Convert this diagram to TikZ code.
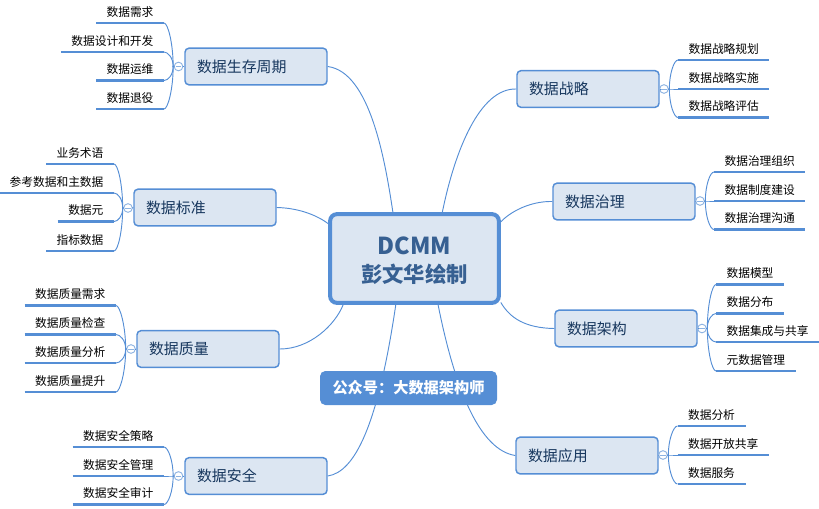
\documentclass[tikz,border=0pt]{standalone}
\usepackage{fontspec}
\usepackage{xcolor}
\setmainfont{Noto Sans CJK SC}
\definecolor{mapblue}{HTML}{558ED5}
\definecolor{mapfill}{HTML}{DCE6F2}
\definecolor{mapdark}{HTML}{376092}
\definecolor{maptext}{HTML}{17375E}
\definecolor{mapknob}{HTML}{8DB3E2}
\tikzset{
	topic/.style={draw=mapblue,fill=mapfill,line width=1.1pt,rounded corners=3pt,text width=88.5pt,inner xsep=9pt,minimum height=27.5pt,align=left,text=maptext,font=\fontsize{11.2}{13}\selectfont},
	leafl/.style={anchor=south east,inner xsep=7.9pt,inner ysep=0pt,outer sep=0pt,minimum height=17pt,font=\fontsize{8.8}{10}\selectfont},
	leafr/.style={leafl,anchor=south west},
	leafline/.style={draw=mapblue,line width=2pt},
	branch/.style={draw=mapblue,line width=0.7pt},
	knob/.style={circle,draw=mapknob,fill=white,line width=0.7pt,minimum size=6.5pt,inner sep=0pt,outer sep=0pt,path picture={\draw[mapknob,line width=0.7pt] ([xshift=-2pt]path picture bounding box.center) -- ([xshift=2pt]path picture bounding box.center);}},
}
\begin{document}
\begin{tikzpicture}[x=0.75pt,y=-0.75pt]
	\useasboundingbox (0,0) rectangle (819,508);
	% centre and the eight topics
	\node[draw=mapblue,fill=mapfill,line width=3pt,rounded corners=5pt,minimum width=126.5pt,minimum height=66.5pt,align=center,text=mapdark,font=\fontsize{16}{21}\selectfont\bfseries] (main) at (414.5,258.5) {\rule{0pt}{16pt}{\fontsize{17.5}{21}\selectfont DCMM}\\彭文华绘制};
	\node[topic] (life) at (256,66.5) {数据生存周期};
	\node[topic] (std) at (205,207.5) {数据标准};
	\node[topic] (qual) at (208,349) {数据质量};
	\node[topic] (safe) at (256,476) {数据安全};
	\node[topic] (strat) at (588,89) {数据战略};
	\node[topic] (gov) at (624,201.5) {数据治理};
	\node[topic] (arch) at (626,328.5) {数据架构};
	\node[topic] (app) at (587,455.5) {数据应用};
	% knobs
	\node[knob] (lifek) at (178.5,66.5) {};
	\node[knob] (stdk) at (128,208) {};
	\node[knob] (qualk) at (131,349) {};
	\node[knob] (safek) at (178.5,476) {};
	\node[knob] (stratk) at (664,89) {};
	\node[knob] (govk) at (700,201) {};
	\node[knob] (archk) at (702,328.5) {};
	\node[knob] (appk) at (663,455) {};
	\foreach \t in {life,std,qual,safe}
		\draw[branch] (\t.west) -- (\t k.east);
	\foreach \t in {strat,gov,arch,app}
		\draw[branch] (\t.east) -- (\t k.west);
	% from the centre to the topics
	\draw[branch] (main.115) .. controls (385,160) and (370,72) .. (life.east);
	\draw[branch] (main.158) .. controls (318,216) and (300,208) .. (std.east);
	\draw[branch] (main.-147) .. controls (335,325) and (310,349) .. (qual.east);
	\draw[branch] (main.-112) .. controls (378,425) and (355,472) .. (safe.east);
	\draw[branch] (main.59) .. controls (455,150) and (480,88) .. (strat.west);
	\draw[branch] (main.23) .. controls (510,212) and (530,201) .. (gov.west);
	\draw[branch] (main.-27) .. controls (510,318) and (525,328) .. (arch.west);
	\draw[branch] (main.-63) .. controls (455,390) and (480,450) .. (app.west);
	% leaves on the left
	\foreach \nm/\txt/\kn/\xx/\y/\o in {
		life1/数据需求/lifek/164/23/90,life2/数据设计和开发/lifek/164/52/90,life3/数据运维/lifek/164/80.5/-90,life4/数据退役/lifek/164/109/-90,
		std1/业务术语/stdk/114/164/90,std2/参考数据和主数据/stdk/114/193/90,std3/数据元/stdk/114/221.5/-90,std4/指标数据/stdk/114/251/-90,
		qual1/数据质量需求/qualk/116/305.5/90,qual2/数据质量检查/qualk/116/334.5/90,qual3/数据质量分析/qualk/116/363/-90,qual4/数据质量提升/qualk/116/392/-90,
		safe1/数据安全策略/safek/164/447/90,safe2/数据安全管理/safek/164/476/180,safe3/数据安全审计/safek/164/504.5/-90}{
		\node[leafl] (\nm) at (\xx,\y) {\txt};
		\draw[leafline] (\nm.south west) -- (\nm.south east);
		\draw[branch] (\kn.west) -- ++(-1,0) to[out=\o,in=0,out looseness=1.3,in distance=3pt] (\nm.south east);
	}
	% leaves on the right
	\foreach \nm/\txt/\kn/\xx/\y/\o in {
		strat1/数据战略规划/stratk/678/60/90,strat2/数据战略实施/stratk/678/89/0,strat3/数据战略评估/stratk/678/117.5/-90,
		gov1/数据治理组织/govk/714/172/90,gov2/数据制度建设/govk/714/201/0,gov3/数据治理沟通/govk/714/229.5/-90,
		arch1/数据模型/archk/716/284.5/90,arch2/数据分布/archk/716/313.5/90,arch3/数据集成与共享/archk/716/342/-90,arch4/元数据管理/archk/716/371/-90,
		app1/数据分析/appk/677.5/426/90,app2/数据开放共享/appk/677.5/455/0,app3/数据服务/appk/677.5/484/-90}{
		\node[leafr] (\nm) at (\xx,\y) {\txt};
		\draw[leafline] (\nm.south west) -- (\nm.south east);
		\draw[branch] (\kn.east) -- ++(1,0) to[out=\o,in=180,out looseness=1.3,in distance=3pt] (\nm.south west);
	}
	% drawn last, the lines pass behind it
	\node[fill=mapblue,rounded corners=4pt,minimum width=132.75pt,minimum height=25.5pt,inner sep=0pt,text=white,font=\fontsize{11.4}{13}\selectfont\bfseries] (tag) at (408.5,388) {公众号：大数据架构师};
\end{tikzpicture}
\end{document}
